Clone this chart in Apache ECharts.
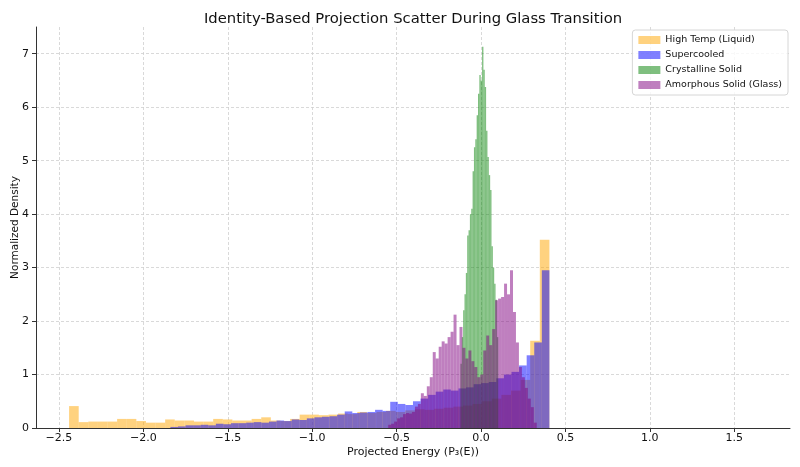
<!DOCTYPE html>
<html>
<head>
<meta charset="utf-8">
<script src="https://cdn.jsdelivr.net/npm/echarts@6/dist/echarts.min.js"></script>
<style>
  html, body { margin: 0; padding: 0; background: #fff; }
  #main { width: 800px; height: 467px; }
</style>
</head>
<body>
<div id="main"></div>
<script>
// histogram bins: start, width, heights (normalized density)
const highTempStart = -2.44;
const highTempWidth = 0.0569;
const highTemp = [
  0.41, 0.11, 0.12, 0.12, 0.12, 0.17, 0.17, 0.13, 0.10, 0.10,
  0.16, 0.14, 0.14, 0.12, 0.12, 0.17, 0.16, 0.14, 0.14, 0.17,
  0.20, 0.14, 0.13, 0.17, 0.25, 0.25, 0.24, 0.25, 0.27, 0.26,
  0.30, 0.28, 0.30, 0.32, 0.30, 0.33, 0.35, 0.34, 0.36, 0.38,
  0.40, 0.42, 0.45, 0.50, 0.55, 0.62, 0.70, 0.90, 1.63, 3.52
];

const superStart = -1.84;
const superWidth = 0.0449;
const supercooled = [
  0.02, 0.03, 0.05, 0.05, 0.06, 0.05, 0.08, 0.07, 0.09, 0.09,
  0.10, 0.11, 0.10, 0.12, 0.14, 0.13, 0.16, 0.15, 0.18, 0.20,
  0.21, 0.22, 0.25, 0.31, 0.28, 0.29, 0.30, 0.34, 0.32, 0.49,
  0.45, 0.43, 0.50, 0.55, 0.62, 0.68, 0.72, 0.70, 0.74, 0.76,
  0.82, 0.84, 0.86, 0.93, 1.00, 1.05, 1.17, 1.36, 1.60, 2.95
];

const crystalStart = -0.122;
const crystalWidth = 0.008;
const crystalline = [
  1.2, 1.7, 2.2, 2.5, 2.9, 3.6, 3.7, 4.0, 4.1, 4.8,
  5.25, 5.4, 5.85, 6.25, 6.6, 6.5, 7.13, 6.7, 6.38, 5.56,
  5.07, 4.73, 4.45, 3.4, 3.0, 2.7, 2.4, 1.7
];

const amorphStart = -0.55;
const amorphWidth = 0.0176;
const amorphous = [
  0.06, 0.08, 0.12, 0.18, 0.20, 0.26, 0.28, 0.27, 0.30, 0.40,
  0.45, 0.65, 0.60, 0.78, 0.95, 1.42, 1.30, 1.52, 1.62, 1.58,
  1.70, 1.80, 2.12, 1.55, 1.89, 1.50, 1.30, 1.45, 1.25, 1.14,
  0.95, 1.00, 1.45, 1.73, 1.55, 1.85, 2.39, 2.42, 2.45, 2.70,
  2.50, 2.95, 2.17, 1.60, 1.14, 0.95, 0.75, 0.55, 0.39, 0.10
];

const yTicks = [0, 1, 2, 3, 4, 5, 6, 7];

const seriesDefs = [
  { name: 'High Temp (Liquid)', start: highTempStart, width: highTempWidth, values: highTemp, color: 'rgba(255,165,0,0.5)' },
  { name: 'Supercooled', start: superStart, width: superWidth, values: supercooled, color: 'rgba(0,0,255,0.5)' },
  { name: 'Crystalline Solid', start: crystalStart, width: crystalWidth, values: crystalline, color: 'rgba(0,128,0,0.5)' },
  { name: 'Amorphous Solid (Glass)', start: amorphStart, width: amorphWidth, values: amorphous, color: 'rgba(128,0,128,0.5)' }
];

const FONT = 'DejaVu Sans';

function renderBin(params, api) {
  const lo = api.coord([api.value(0), 0]);
  const hi = api.coord([api.value(1), api.value(2)]);
  return {
    type: 'rect',
    shape: { x: lo[0], y: hi[1], width: hi[0] - lo[0], height: lo[1] - hi[1] },
    style: { fill: api.visual('color') }
  };
}

const chart = echarts.init(document.getElementById('main'), null, { renderer: 'canvas' });

const series = seriesDefs.map(s => ({
  name: s.name,
  type: 'custom',
  renderItem: renderBin,
  itemStyle: { color: s.color },
  encode: { x: [0, 1], y: 2 },
  clip: true,
  data: s.values.map((v, i) => [s.start + i * s.width, s.start + (i + 1) * s.width, v])
}));

const gridLine = { show: true, showMinLine: false, showMaxLine: false, lineStyle: { color: '#cfcfcf', type: [3, 2], width: 0.8 } };

chart.setOption({
  animation: false,
  backgroundColor: '#fff',
  title: {
    text: 'Identity-Based Projection Scatter During Glass Transition',
    left: 408, top: 7, textAlign: 'center',
    textStyle: { fontFamily: FONT, fontSize: 14.8, fontWeight: 'normal', color: '#111' }
  },
  legend: {
    orient: 'vertical', right: 12, top: 30,
    icon: 'rect', itemWidth: 22, itemHeight: 8, itemGap: 5,
    padding: [5, 6, 5, 6],
    backgroundColor: 'rgba(255,255,255,0.8)',
    borderColor: '#d6d6d6', borderWidth: 1, borderRadius: 3,
    textStyle: { fontFamily: FONT, fontSize: 9.5, color: '#111' },
    data: seriesDefs.map(s => s.name)
  },
  grid: { left: 36, right: 10, top: 27, bottom: 39, containLabel: false, outerBoundsMode: 'none' },
  xAxis: {
    type: 'value', min: -2.636, max: 1.83, splitNumber: 9,
    name: 'Projected Energy (P₃(E))', nameLocation: 'middle', nameGap: 19,
    nameMoveOverlap: false,
    nameTextStyle: { fontFamily: FONT, fontSize: 11, color: '#111' },
    axisLine: { show: true, onZero: false, lineStyle: { color: '#333', width: 1 } },
    axisTick: { show: true, length: 4, lineStyle: { color: '#333' } },
    axisLabel: {
      fontFamily: FONT, fontSize: 11, color: '#111', margin: 5,
      showMinLabel: false, showMaxLabel: false,
      formatter: v => (v < 0 ? '\u2212' + Math.abs(v).toFixed(1) : v.toFixed(1))
    },
    splitLine: gridLine
  },
  yAxis: {
    type: 'value', min: 0, max: 7.5, interval: 1,
    name: 'Normalized Density', nameLocation: 'middle', nameGap: 15,
    nameMoveOverlap: false,
    nameTextStyle: { fontFamily: FONT, fontSize: 10.5, color: '#111' },
    axisLine: { show: true, onZero: false, lineStyle: { color: '#333', width: 1 } },
    axisTick: { show: true, length: 4, lineStyle: { color: '#333' } },
    axisLabel: {
      fontFamily: FONT, fontSize: 11, color: '#111', margin: 7,
      showMaxLabel: false,
      formatter: v => (yTicks.indexOf(v) >= 0 ? String(v) : '')
    },
    splitLine: gridLine
  },
  series
});
</script>
</body>
</html>
